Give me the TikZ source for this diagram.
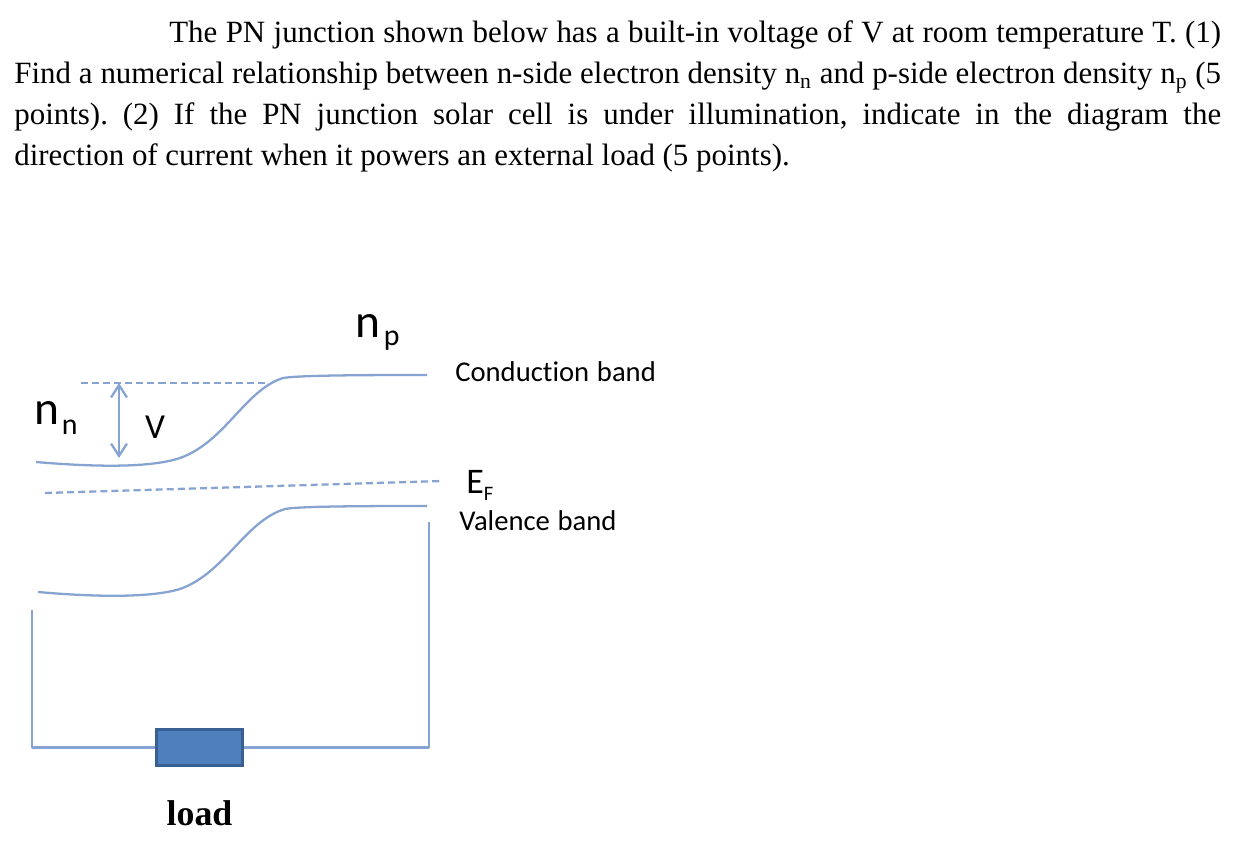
\documentclass[tikz,border=0pt]{standalone}
\usepackage{fontspec}
\usetikzlibrary{arrows.meta}
\setmainfont{Liberation Serif}
\newfontfamily\labelfont[Ligatures=NoCommon,WordSpace=1.2]{Carlito}
\definecolor{bandblue}{HTML}{86A3D1}
\definecolor{loadfill}{HTML}{4F7FBD}
\definecolor{loadedge}{HTML}{3A5F92}
\newcommand{\lowsub}[4][17]{\kern#2\raisebox{-#3}{\fontsize{#1}{18}\selectfont #4}}
\tikzset{
    bandline/.style={draw=bandblue, line width=1.3pt},
    banddash/.style={draw=bandblue, line width=1.3pt, dash pattern=on 4pt off 2.3pt},
    bandtext/.style={font=\labelfont\fontsize{16.3}{18}\selectfont, inner sep=0pt, anchor=base west},
    carrier/.style={font=\labelfont\fontsize{27}{30}\selectfont, inner sep=0pt, anchor=base west},
}
\begin{document}
\begin{tikzpicture}[x=0.02cm, y=-0.02cm]
    \useasboundingbox (0,0) rectangle (1235,853);
    \node[anchor=north west, inner sep=0pt, text width=24.14cm, align=justify, font=\fontsize{17.6}{23.3}\selectfont] (question) at (14,20.5) {%
        \frenchspacing\hspace*{3.1cm}The PN junction shown below has a built-in voltage of V at room temperature T. (1)\linebreak
        Find a numerical relationship between n-side electron density n\textsubscript{n} and p-side electron density n\textsubscript{p} (5\linebreak
        points). (2) If the PN junction solar cell is under illumination, indicate in the diagram the\linebreak
        direction of current when it powers an external load (5 points).\par};
    % bands
    \draw[bandline] (36,462) .. controls (95,467) and (150,468) .. (180,458)
    .. controls (225,442) and (245,390) .. (283,378)
    .. controls (300,375) and (380,375) .. (427,375);
    \draw[bandline] (38,592) .. controls (95,597) and (150,598) .. (180,589)
    .. controls (225,573) and (245,521) .. (285,509)
    .. controls (300,506) and (380,506) .. (427,506);
    \draw[banddash] (81,383) -- (265,383);
    \draw[banddash] (45,493) -- (442,481);
    \coordinate (vtop) at (119,383);
    \coordinate (vbottom) at (119,458);
    \draw[bandline, {Straight Barb[length=7pt,width=9pt]}-{Straight Barb[length=7pt,width=9pt]}] (vtop) -- (vbottom);
    % labels
    \node[carrier] (nn) at (34,424) {n\lowsub{1.5pt}{6pt}{n}};
    \node[carrier] (np) at (355,337) {n\lowsub{2pt}{5pt}{p}};
    \node[font=\labelfont\fontsize{20}{22}\selectfont, inner sep=0pt] (vlabel) at (155,427) {V};
    \node[bandtext] (conduction) at (455,381) {Conduction band};
    \node[bandtext, font=\labelfont\fontsize{20.5}{22}\selectfont] (fermi) at (466,493) {E\lowsub[11.7]{0pt}{4pt}{F}};
    \node[bandtext] (valence) at (459,530) {Valence band};
    % circuit
    \node[draw=loadedge, fill=loadfill, line width=2.2pt, minimum width=1.72cm, minimum height=0.72cm, inner sep=0pt] (loadbox) at (199.5,747.5) {};
    \coordinate (wireleft) at (32,610);
    \coordinate (wireright) at (429,522);
    \draw[bandline, line join=round] (wireleft) |- (loadbox.west);
    \draw[bandline, line join=round] (loadbox.east) -| (wireright);
    \node[font=\bfseries\fontsize{20.4}{22}\selectfont, inner sep=0pt] (loadlabel) at (199.5,813) {load};
\end{tikzpicture}
\end{document}
